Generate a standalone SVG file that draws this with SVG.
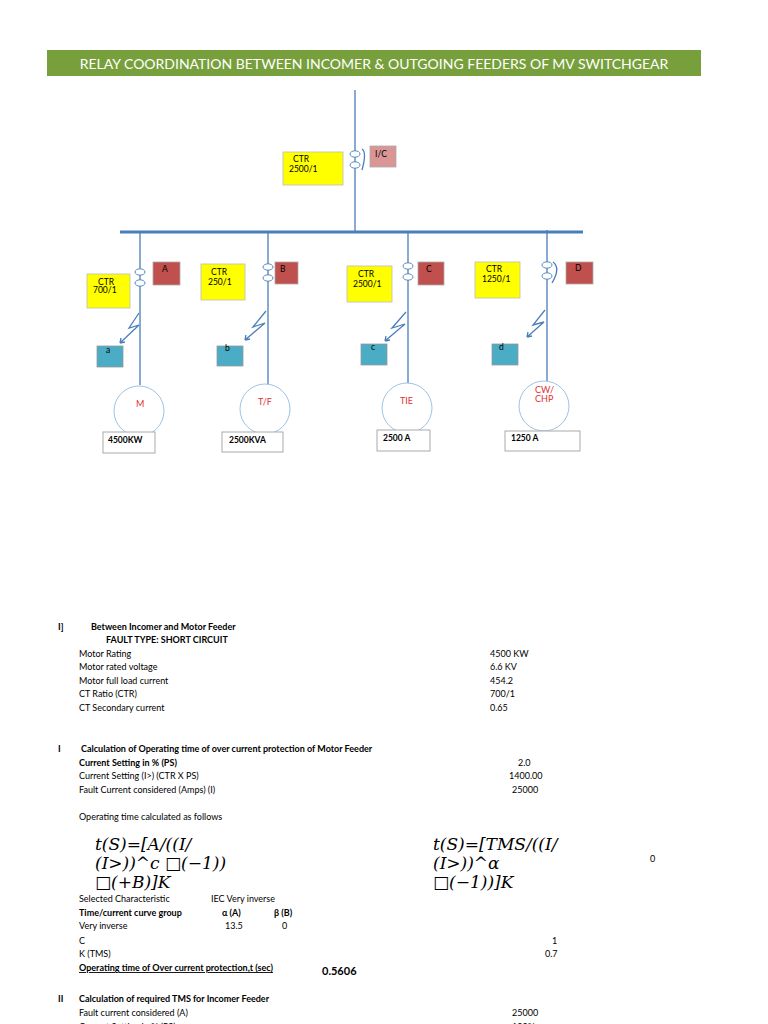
<svg xmlns="http://www.w3.org/2000/svg" width="768" height="1024" viewBox="0 0 768 1024">
<style>
.ln{stroke:#4a7ebb;stroke-width:1.3;fill:none}
.ct{stroke:#4a7ebb;stroke-width:0.9;fill:#fff}
.y{fill:#ffff00;stroke:#bbb;stroke-width:0.8}
.r{fill:#c0504d;stroke:#aaa;stroke-width:0.8}
.tl{fill:#4bacc6;stroke:#999;stroke-width:0.8}
.ld{fill:#fff;stroke:#9dc3e6;stroke-width:1}
.lb{fill:#fff;stroke:#aaa;stroke-width:1}
text{font-family:Lato,"Liberation Sans",sans-serif;font-size:9px;fill:#000}
.s{font-size:8.5px}
.red{fill:#e03030;font-size:9px}
.b{font-weight:bold}
.m{font-family:"DejaVu Serif","Liberation Serif",serif;font-style:italic;font-size:17px}
</style>
<rect x="47" y="50" width="654" height="26" fill="#77a03c"/>
<text x="374" y="69" text-anchor="middle" style="font-size:14px;fill:#fff">RELAY COORDINATION BETWEEN INCOMER &amp; OUTGOING FEEDERS OF  MV SWITCHGEAR</text>
<g id="connectors">
<path class="ln" d="M355 90V232"/>
<path d="M120 232H583" stroke="#4a7ebb" stroke-width="3"/>
<path class="ln" d="M140 232V385M268 232V385M408 232V384M547 230V381"/>
<path class="ln" d="M139 313l-10 15 10-3-19 18M120 343l1-5M120 343l5-1"/>
<path class="ln" d="M266 311l-13 16 12-4-20 17M245 340l1-5M245 340l5-1"/>
<path class="ln" d="M406 312l-14 16 13-4-20 17M385 341l1-5M385 341l5-1"/>
<path class="ln" d="M545 310l-12 15 11-3-17 15M527 337l1-5M527 337l5-1"/>
</g>
<g id="ic"><ellipse class="ct" cx="355" cy="154" rx="5" ry="3.2"/><ellipse class="ct" cx="355" cy="165" rx="5" ry="3.2"/><path class="ln" d="M362 149q5 3 0 21" stroke-width="0.8"/>
<rect class="y" x="283" y="152" width="60" height="33"/><text x="293" y="162" class="s">CTR</text><text x="289" y="172" class="s">2500/1</text>
<rect x="370" y="146" width="26" height="21" fill="#d99694" stroke="#aaa" stroke-width="0.8"/><text x="375" y="157" class="s">I/C</text></g>
<g id="fA"><ellipse class="ct" cx="140" cy="272" rx="5" ry="3.2"/><ellipse class="ct" cx="140" cy="283" rx="5" ry="3.2"/>
<rect class="r" x="153" y="262" width="27" height="23"/><text x="162" y="272" class="s">A</text>
<rect class="y" x="87" y="274" width="43" height="34"/><text x="98" y="285" class="s">CTR</text><text x="93" y="293" class="s">700/1</text>
<rect class="tl" x="97" y="346" width="26" height="21"/><text x="106" y="353" class="s">a</text>
<circle class="ld" cx="139" cy="411" r="25"/><text x="136" y="407" class="red">M</text>
<rect class="lb" x="103" y="432" width="52" height="21"/><text x="108" y="443" class="b s">4500KW</text></g>
<g id="fB"><ellipse class="ct" cx="268" cy="267" rx="5" ry="3.2"/><ellipse class="ct" cx="268" cy="278" rx="5" ry="3.2"/>
<rect class="r" x="275" y="262" width="23" height="22"/><text x="280" y="272" class="s">B</text>
<rect class="y" x="201" y="264" width="44" height="36"/><text x="211" y="275" class="s">CTR</text><text x="208" y="285" class="s">250/1</text>
<rect class="tl" x="217" y="346" width="26" height="20"/><text x="225" y="351" class="s">b</text>
<circle class="ld" cx="265" cy="409" r="25"/><text x="258" y="405" class="red">T/F</text>
<rect class="lb" x="222" y="432" width="61" height="20"/><text x="229" y="443" class="b s">2500KVA</text></g>
<g id="fC"><ellipse class="ct" cx="408" cy="266" rx="5" ry="3.2"/><ellipse class="ct" cx="408" cy="277" rx="5" ry="3.2"/>
<rect class="r" x="418" y="262" width="26" height="23"/><text x="426" y="272" class="s">C</text>
<rect class="y" x="347" y="266" width="45" height="36"/><text x="358" y="277" class="s">CTR</text><text x="353" y="287" class="s">2500/1</text>
<rect class="tl" x="361" y="344" width="26" height="21"/><text x="371" y="350" class="s">c</text>
<circle class="ld" cx="407" cy="408" r="25"/><text x="400" y="404" class="red">TIE</text>
<rect class="lb" x="377" y="430" width="53" height="21"/><text x="383" y="441" class="b s">2500 A</text></g>
<g id="fD"><ellipse class="ct" cx="547" cy="265" rx="5" ry="3.2"/><ellipse class="ct" cx="547" cy="276" rx="5" ry="3.2"/><path class="ln" d="M553 262q8 6 -1 21" stroke-width="0.8"/>
<rect class="r" x="566" y="262" width="27" height="22"/><text x="575" y="271" class="s">D</text>
<rect class="y" x="475" y="262" width="45" height="36"/><text x="486" y="272" class="s">CTR</text><text x="482" y="282" class="s">1250/1</text>
<rect class="tl" x="492" y="344" width="26" height="21"/><text x="499" y="350" class="s">d</text>
<circle class="ld" cx="544" cy="406" r="25"/><text x="535" y="393" class="red">CW/</text><text x="535" y="402" class="red">CHP</text>
<rect class="lb" x="505" y="431" width="75" height="20"/><text x="511" y="441" class="b s">1250 A</text></g>
<g id="text">
<text x="58" y="630" class="b">I]</text><text x="91" y="630" class="b">Between Incomer and Motor Feeder</text>
<text x="106" y="643" class="b">FAULT TYPE: SHORT CIRCUIT</text>
<text x="79" y="657">Motor Rating</text><text x="490" y="657">4500 KW</text>
<text x="79" y="670">Motor rated voltage</text><text x="490" y="670">6.6 KV</text>
<text x="79" y="684">Motor full load current</text><text x="490" y="684">454.2</text>
<text x="79" y="697">CT Ratio (CTR)</text><text x="490" y="697">700/1</text>
<text x="79" y="711">CT Secondary current</text><text x="490" y="711">0.65</text>
<text x="58" y="752" class="b">I</text><text x="81" y="752" class="b">Calculation of Operating time of over current protection of Motor Feeder</text>
<text x="79" y="766" class="b">Current Setting  in % (PS)</text><text x="518" y="766">2.0</text>
<text x="79" y="779">Current Setting (I&gt;)    (CTR X PS)</text><text x="509" y="779">1400.00</text>
<text x="79" y="793">Fault Current considered (Amps) (I)</text><text x="512" y="793">25000</text>
<text x="79" y="820">Operating time calculated as follows</text>
<text x="95" y="850" class="m">t(S)=[A/((I/</text><text x="95" y="869" class="m">(I&gt;))^c □(−1))</text><text x="95" y="888" class="m">□(+B)]K</text>
<text x="433" y="850" class="m">t(S)=[TMS/((I/</text><text x="433" y="869" class="m">(I&gt;))^α</text><text x="433" y="888" class="m">□(−1))]K</text>
<text x="650" y="862">0</text>
<text x="79" y="902">Selected Characteristic</text><text x="211" y="902">IEC Very inverse</text>
<text x="79" y="916" class="b">Time/current curve group</text><text x="222" y="916" class="b">α (A)</text><text x="274" y="916" class="b">β (B)</text>
<text x="79" y="929">Very inverse</text><text x="225" y="929">13.5</text><text x="282" y="929">0</text>
<text x="79" y="944">C</text><text x="552" y="944">1</text>
<text x="79" y="957">K (TMS)</text><text x="545" y="957">0.7</text>
<text x="79" y="971" class="b" text-decoration="underline">Operating time of Over current protection,t (sec)</text><text x="322" y="975" class="b" style="font-size:11px">0.5606</text>
<text x="58" y="1002" class="b">II</text><text x="79" y="1002" class="b">Calculation of required TMS for Incomer Feeder</text>
<text x="79" y="1016">Fault current considered (A)</text><text x="512" y="1016">25000</text>
<text x="79" y="1030">Current Setting in % (PS)</text><text x="512" y="1030">100%</text>
</g>
</svg>
